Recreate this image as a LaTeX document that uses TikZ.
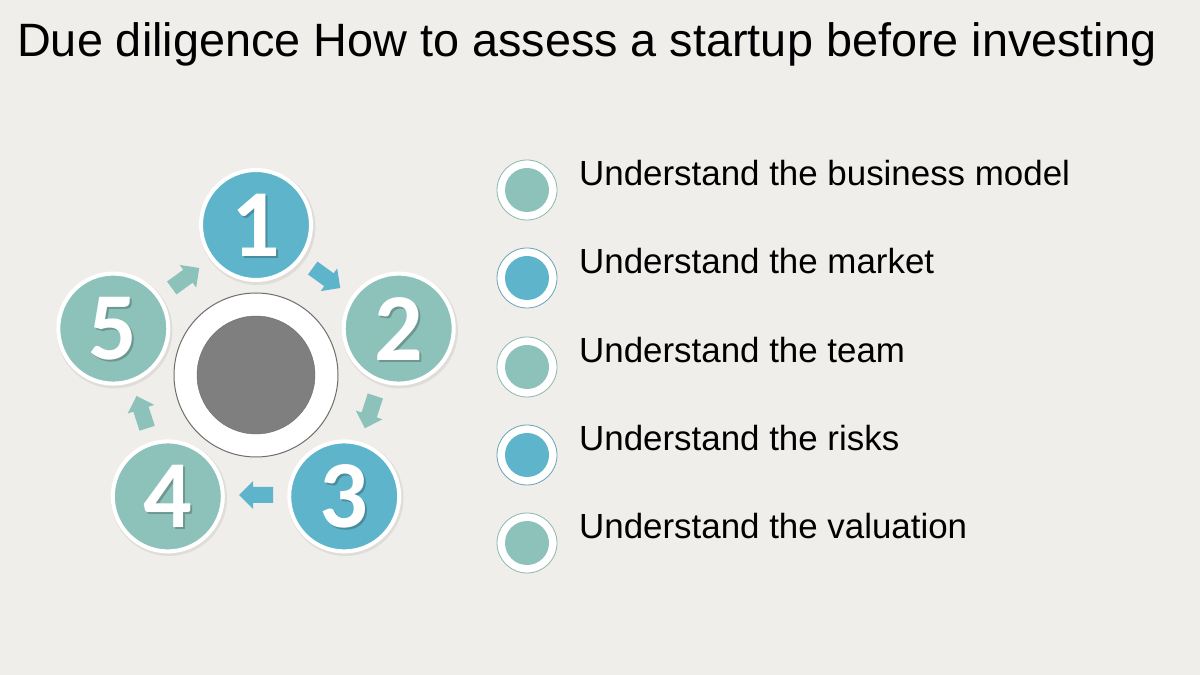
\documentclass[tikz,border=0pt]{standalone}
\usepackage{fontspec}
\setmainfont{Liberation Sans}
\newfontfamily\numfont{Carlito}
\definecolor{bg}{RGB}{240,238,235}
\definecolor{cblue}{RGB}{94,180,202}
\definecolor{cteal}{RGB}{140,194,185}
\definecolor{ringgray}{RGB}{110,110,110}
\definecolor{coregray}{RGB}{127,127,127}
\tikzset{
  bigcirc/.style={circle, minimum size=110pt, inner sep=0pt, draw=white, line width=4pt},
  cshadow/.style={circle, minimum size=116pt, inner sep=0pt, fill=black, fill opacity=0.07},
  numtxt/.style={text=white, inner sep=0pt, font=\numfont\bfseries\fontsize{96}{98}\selectfont},
  numshadow/.style={text=black, text opacity=0.22, inner sep=0pt, font=\numfont\bfseries\fontsize{96}{98}\selectfont},
  bring/.style={circle, minimum size=60pt, inner sep=0pt, fill=white, line width=0.8pt},
  bdot/.style={circle, minimum size=44pt, inner sep=0pt},
  item/.style={anchor=base west, inner sep=0pt, font=\fontsize{34.9}{40}\selectfont},
}
\newcommand{\blockarrow}{(-17,-8) -- (3,-8) -- (3,-14) -- (17,0) -- (3,14) -- (3,8) -- (-17,8) -- cycle}
\begin{document}
\begin{tikzpicture}[x=1pt,y=1pt]
\fill[bg] (0,0) rectangle (1200,675);
\useasboundingbox (0,0) rectangle (1200,675);

% title
\node[anchor=base west, inner sep=0pt, font=\fontsize{46.8}{56}\selectfont] (title) at (17,618) {Due diligence How to assess a startup before investing};

% centre
\node[circle, minimum size=164pt, inner sep=0pt, fill=white, draw=ringgray, line width=1pt] (ring) at (256,300) {};
\node[circle, minimum size=118pt, inner sep=0pt, fill=coregray, draw=coregray!85!black, line width=0.4pt] (core) at (256,300) {};

% shadows of the circles
\node[cshadow] (s1) at (257.5,448) {};
\node[cshadow] (s2) at (400,344.5) {};
\node[cshadow] (s3) at (345.5,177) {};
\node[cshadow] (s4) at (169,177) {};
\node[cshadow] (s5) at (114.5,344.5) {};

% numbered circles
\node[bigcirc, fill=cblue] (c1) at (256,450) {};
\node[bigcirc, fill=cteal] (c2) at (398.7,346.4) {};
\node[bigcirc, fill=cblue] (c3) at (344.2,178.6) {};
\node[bigcirc, fill=cteal] (c4) at (167.8,178.6) {};
\node[bigcirc, fill=cteal] (c5) at (113.3,346.4) {};

\node[numshadow] (n1s) at ([shift={(2,-2)}]c1.center) {1};
\node[numshadow] (n2s) at ([shift={(2,-2)}]c2.center) {2};
\node[numshadow] (n3s) at ([shift={(2,-2)}]c3.center) {3};
\node[numshadow] (n4s) at ([shift={(2,-2)}]c4.center) {4};
\node[numshadow] (n5s) at ([shift={(2,-2)}]c5.center) {5};
\node[numtxt] (n1) at (c1.center) {1};
\node[numtxt] (n2) at (c2.center) {2};
\node[numtxt] (n3) at (c3.center) {3};
\node[numtxt] (n4) at (c4.center) {4};
\node[numtxt] (n5) at (c5.center) {5};

% arrows between circles
\coordinate (a12) at (326.5,397);
\coordinate (a23) at (370.1,262.9);
\coordinate (a34) at (256,180);
\coordinate (a45) at (141.9,262.9);
\coordinate (a51) at (185.5,397);
\fill[cblue, shift={(a12)}, rotate=-36] \blockarrow;
\fill[cteal, shift={(a23)}, rotate=-108] \blockarrow;
\fill[cblue, shift={(a34)}, rotate=-180] \blockarrow;
\fill[cteal, shift={(a45)}, rotate=-252] \blockarrow;
\fill[cteal, shift={(a51)}, rotate=-324] \blockarrow;

% list bullets
\node[bring, draw=cteal!85!gray] (b1) at (527,485) {};
\node[bring, draw=cblue!70!gray] (b2) at (527,397) {};
\node[bring, draw=cteal!85!gray] (b3) at (527,308) {};
\node[bring, draw=cblue!70!gray] (b4) at (527,220) {};
\node[bring, draw=cteal!85!gray] (b5) at (527,132) {};
\node[bdot, fill=cteal] (d1) at (b1.center) {};
\node[bdot, fill=cblue] (d2) at (b2.center) {};
\node[bdot, fill=cteal] (d3) at (b3.center) {};
\node[bdot, fill=cblue] (d4) at (b4.center) {};
\node[bdot, fill=cteal] (d5) at (b5.center) {};

% list texts
\node[item] (t1) at (579,489) {Understand the business model};
\node[item] (t2) at (579,401) {Understand the market};
\node[item] (t3) at (579,312) {Understand the team};
\node[item] (t4) at (579,224) {Understand the risks};
\node[item] (t5) at (579,136) {Understand the valuation};
\end{tikzpicture}
\end{document}
